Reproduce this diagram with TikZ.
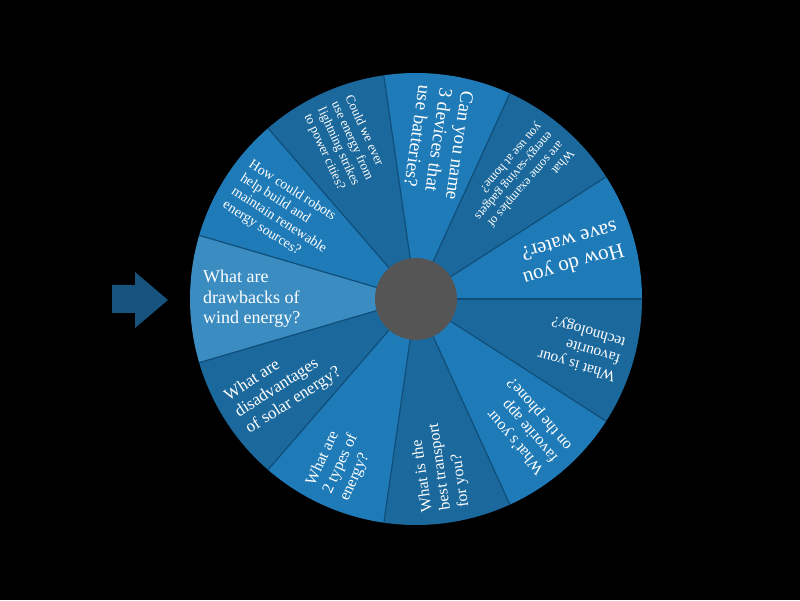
\documentclass[tikz,border=0pt]{standalone}
\usepackage{fontspec}
\setmainfont{Liberation Serif}
\usetikzlibrary{calc}
\definecolor{segLight}{RGB}{31,123,184}
\definecolor{segDark}{RGB}{26,104,156}
\definecolor{segPick}{RGB}{58,140,193}
\definecolor{segLine}{RGB}{16,78,122}
\definecolor{hubGray}{RGB}{85,85,85}
\definecolor{pointer}{RGB}{22,82,124}
\newcommand{\qsize}[2]{\fontsize{#1}{#2}\selectfont}

\begin{document}
\begin{tikzpicture}[
    x=1pt, y=1pt,
    question/.style={text=white, align=left, anchor=west, inner sep=0pt},
    divider/.style={draw=segLine, line width=1.2pt},
]
\fill[black] (0,0) rectangle (800,600);
\useasboundingbox (0,0) rectangle (800,600);
\coordinate (hub) at (416,301);
% slices of the wheel, the picked one first
\foreach \i/\col in {0/segPick,1/segLight,2/segDark,3/segLight,4/segDark,5/segLight,6/segDark,7/segLight,8/segDark,9/segLight,10/segDark}
  \fill[\col] (hub) -- ++({180-(\i-0.5)*360/11}:226) arc[start angle={180-(\i-0.5)*360/11}, delta angle={-360/11}, radius=226] -- cycle;
\foreach \i in {0,...,10}
  \draw[divider] (hub) -- ++({180-(\i+0.5)*360/11}:226);
\node[circle, fill=hubGray, minimum size=82pt, inner sep=0pt] (hubdisc) at (hub) {};
% questions
\node[question, font=\qsize{18}{20.5}, rotate=0] (wind) at ($(hub)+(180:213)$) {What are\\drawbacks of\\wind energy?};
\node[question, font=\qsize{14}{16}, rotate=-32.73] (robots) at ($(hub)+(147.27:213)$) {How could robots\\help build and\\maintain renewable\\energy sources?};
\node[question, font=\qsize{13}{15}, rotate=-65.45] (lightning) at ($(hub)+(114.55:213)$) {Could we ever\\use energy from\\lightning strikes\\to power cities?};
\node[question, font=\qsize{19}{21.5}, rotate=-98.18] (batteries) at ($(hub)+(81.82:213)$) {Can you name\\3 devices that\\use batteries?};
\node[question, font=\qsize{12.5}{14}, rotate=-130.91] (gadgets) at ($(hub)+(49.09:213)$) {What\\are some examples of\\energy-saving gadgets\\you use at home?};
\node[question, font=\qsize{21}{24}, rotate=-163.64] (water) at ($(hub)+(16.36:213)$) {How do you\\save water?};
\node[question, font=\qsize{15.5}{17.8}, rotate=163.64] (technology) at ($(hub)+(-16.36:213)$) {What is your\\favourite\\technology?};
\node[question, font=\qsize{16}{18.4}, rotate=130.91] (app) at ($(hub)+(-49.09:213)$) {What’s your\\favorite app\\on the phone?};
\node[question, font=\qsize{16}{18.4}, rotate=98.18] (transport) at ($(hub)+(-81.82:213)$) {What is the\\best transport\\for you?};
\node[question, font=\qsize{16}{18.4}, rotate=65.45] (types) at ($(hub)+(-114.55:213)$) {What are\\2 types of\\energy?};
\node[question, font=\qsize{17}{19.5}, rotate=32.73] (solar) at ($(hub)+(-147.27:213)$) {What are\\disadvantages\\of solar energy?};
% pointer
\fill[pointer] (112,287) -- (135,287) -- (135,272) -- (168,300) -- (135,328) -- (135,315) -- (112,315) -- cycle;
\end{tikzpicture}
\end{document}
